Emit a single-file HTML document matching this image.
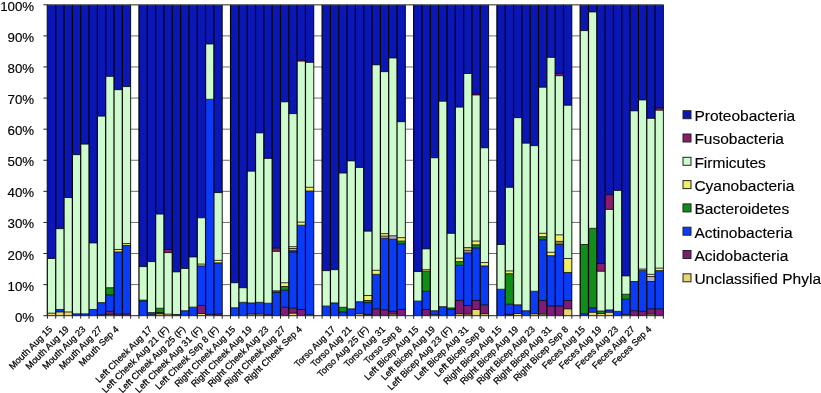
<!DOCTYPE html>
<html><head><meta charset="utf-8"><title>Phyla</title>
<style>html,body{margin:0;padding:0;background:#fff}body{width:821px;height:393px;overflow:hidden}svg{display:block}text{font-family:"Liberation Sans",sans-serif;fill:#000}</style></head><body>
<svg width="821" height="393" viewBox="0 0 821 393">
<rect width="821" height="393" fill="#fff"/>
<g stroke="#707070" stroke-width="1">
<line x1="47.4" x2="663.4" y1="284.61" y2="284.61"/>
<line x1="47.4" x2="663.4" y1="253.52" y2="253.52"/>
<line x1="47.4" x2="663.4" y1="222.43" y2="222.43"/>
<line x1="47.4" x2="663.4" y1="191.34" y2="191.34"/>
<line x1="47.4" x2="663.4" y1="160.25" y2="160.25"/>
<line x1="47.4" x2="663.4" y1="129.16" y2="129.16"/>
<line x1="47.4" x2="663.4" y1="98.07" y2="98.07"/>
<line x1="47.4" x2="663.4" y1="66.98" y2="66.98"/>
<line x1="47.4" x2="663.4" y1="35.89" y2="35.89"/>
<line x1="47.4" x2="663.4" y1="4.80" y2="4.80"/>
</g>
<defs><clipPath id="pc"><rect x="0" y="4.30" width="821" height="400"/></clipPath></defs>
<g clip-path="url(#pc)">
<rect x="47.40" y="313.21" width="8.37" height="2.54" fill="#EAD670"/>
<rect x="47.40" y="258.49" width="8.37" height="54.77" fill="#CDFBCE"/>
<rect x="47.40" y="4.80" width="8.37" height="253.74" fill="#0A17B4"/>
<rect x="55.72" y="311.97" width="8.37" height="3.78" fill="#EAD670"/>
<rect x="55.72" y="309.48" width="8.37" height="2.54" fill="#0A3CF8"/>
<rect x="55.72" y="228.65" width="8.37" height="80.88" fill="#CDFBCE"/>
<rect x="55.72" y="4.80" width="8.37" height="223.90" fill="#0A17B4"/>
<rect x="64.05" y="311.97" width="8.37" height="3.78" fill="#EAD670"/>
<rect x="64.05" y="197.56" width="8.37" height="114.46" fill="#CDFBCE"/>
<rect x="64.05" y="4.80" width="8.37" height="192.81" fill="#0A17B4"/>
<rect x="72.37" y="313.83" width="8.37" height="1.92" fill="#0A3CF8"/>
<rect x="72.37" y="154.65" width="8.37" height="159.23" fill="#CDFBCE"/>
<rect x="72.37" y="4.80" width="8.37" height="149.90" fill="#0A17B4"/>
<rect x="80.70" y="313.83" width="8.37" height="1.92" fill="#0A3CF8"/>
<rect x="80.70" y="144.08" width="8.37" height="169.80" fill="#CDFBCE"/>
<rect x="80.70" y="4.80" width="8.37" height="139.33" fill="#0A17B4"/>
<rect x="89.02" y="309.48" width="8.37" height="6.27" fill="#0A3CF8"/>
<rect x="89.02" y="242.95" width="8.37" height="66.58" fill="#CDFBCE"/>
<rect x="89.02" y="4.80" width="8.37" height="238.20" fill="#0A17B4"/>
<rect x="97.35" y="314.77" width="8.37" height="0.98" fill="#7C1C78"/>
<rect x="97.35" y="302.64" width="8.37" height="12.18" fill="#0A3CF8"/>
<rect x="97.35" y="116.10" width="8.37" height="186.59" fill="#CDFBCE"/>
<rect x="97.35" y="4.80" width="8.37" height="111.35" fill="#0A17B4"/>
<rect x="105.67" y="314.46" width="8.37" height="1.29" fill="#EAD670"/>
<rect x="105.67" y="311.35" width="8.37" height="3.16" fill="#7C1C78"/>
<rect x="105.67" y="294.87" width="8.37" height="16.53" fill="#0A3CF8"/>
<rect x="105.67" y="287.72" width="8.37" height="7.20" fill="#0F8F17"/>
<rect x="105.67" y="76.31" width="8.37" height="211.46" fill="#CDFBCE"/>
<rect x="105.67" y="4.80" width="8.37" height="71.56" fill="#0A17B4"/>
<rect x="113.99" y="314.15" width="8.37" height="1.60" fill="#7C1C78"/>
<rect x="113.99" y="251.97" width="8.37" height="62.23" fill="#0A3CF8"/>
<rect x="113.99" y="249.48" width="8.37" height="2.54" fill="#F2EE66"/>
<rect x="113.99" y="89.68" width="8.37" height="159.85" fill="#CDFBCE"/>
<rect x="113.99" y="4.80" width="8.37" height="84.93" fill="#0A17B4"/>
<rect x="122.32" y="314.15" width="8.37" height="1.60" fill="#7C1C78"/>
<rect x="122.32" y="245.44" width="8.37" height="68.76" fill="#0A3CF8"/>
<rect x="122.32" y="243.57" width="8.37" height="1.92" fill="#F2EE66"/>
<rect x="122.32" y="86.57" width="8.37" height="157.05" fill="#CDFBCE"/>
<rect x="122.32" y="4.80" width="8.37" height="81.82" fill="#0A17B4"/>
<rect x="138.97" y="301.09" width="8.37" height="14.66" fill="#0A3CF8"/>
<rect x="138.97" y="300.15" width="8.37" height="0.98" fill="#0F8F17"/>
<rect x="138.97" y="266.58" width="8.37" height="33.63" fill="#CDFBCE"/>
<rect x="138.97" y="4.80" width="8.37" height="261.83" fill="#0A17B4"/>
<rect x="147.29" y="314.77" width="8.37" height="0.98" fill="#EAD670"/>
<rect x="147.29" y="312.59" width="8.37" height="2.23" fill="#0A3CF8"/>
<rect x="147.29" y="261.60" width="8.37" height="51.04" fill="#CDFBCE"/>
<rect x="147.29" y="4.80" width="8.37" height="256.85" fill="#0A17B4"/>
<rect x="155.62" y="313.83" width="8.37" height="1.92" fill="#EAD670"/>
<rect x="155.62" y="312.59" width="8.37" height="1.29" fill="#0A3CF8"/>
<rect x="155.62" y="308.24" width="8.37" height="4.40" fill="#0F8F17"/>
<rect x="155.62" y="214.04" width="8.37" height="94.25" fill="#CDFBCE"/>
<rect x="155.62" y="4.80" width="8.37" height="209.29" fill="#0A17B4"/>
<rect x="163.94" y="314.15" width="8.37" height="1.60" fill="#EAD670"/>
<rect x="163.94" y="252.59" width="8.37" height="61.61" fill="#CDFBCE"/>
<rect x="163.94" y="249.48" width="8.37" height="3.16" fill="#8C1C6E"/>
<rect x="163.94" y="4.80" width="8.37" height="244.73" fill="#0A17B4"/>
<rect x="172.26" y="314.46" width="8.37" height="1.29" fill="#0A3CF8"/>
<rect x="172.26" y="271.86" width="8.37" height="42.64" fill="#CDFBCE"/>
<rect x="172.26" y="4.80" width="8.37" height="267.11" fill="#0A17B4"/>
<rect x="180.59" y="310.73" width="8.37" height="5.02" fill="#0A3CF8"/>
<rect x="180.59" y="268.44" width="8.37" height="42.33" fill="#CDFBCE"/>
<rect x="180.59" y="4.80" width="8.37" height="263.69" fill="#0A17B4"/>
<rect x="188.91" y="307.15" width="8.37" height="8.60" fill="#0A3CF8"/>
<rect x="188.91" y="256.94" width="8.37" height="50.26" fill="#CDFBCE"/>
<rect x="188.91" y="4.80" width="8.37" height="252.19" fill="#0A17B4"/>
<rect x="197.24" y="313.52" width="8.37" height="2.23" fill="#EAD670"/>
<rect x="197.24" y="305.44" width="8.37" height="8.13" fill="#7C1C78"/>
<rect x="197.24" y="265.96" width="8.37" height="39.53" fill="#0A3CF8"/>
<rect x="197.24" y="264.09" width="8.37" height="1.92" fill="#F2EE66"/>
<rect x="197.24" y="217.77" width="8.37" height="46.37" fill="#CDFBCE"/>
<rect x="197.24" y="4.80" width="8.37" height="213.02" fill="#0A17B4"/>
<rect x="205.56" y="314.46" width="8.37" height="1.29" fill="#EAD670"/>
<rect x="205.56" y="99.31" width="8.37" height="215.19" fill="#0A3CF8"/>
<rect x="205.56" y="43.97" width="8.37" height="55.39" fill="#CDFBCE"/>
<rect x="205.56" y="4.80" width="8.37" height="39.22" fill="#0A17B4"/>
<rect x="213.89" y="314.15" width="8.37" height="1.60" fill="#7C1C78"/>
<rect x="213.89" y="262.85" width="8.37" height="51.35" fill="#0A3CF8"/>
<rect x="213.89" y="260.36" width="8.37" height="2.54" fill="#F2EE66"/>
<rect x="213.89" y="192.58" width="8.37" height="67.83" fill="#CDFBCE"/>
<rect x="213.89" y="4.80" width="8.37" height="187.83" fill="#0A17B4"/>
<rect x="230.54" y="307.77" width="8.37" height="7.98" fill="#0A3CF8"/>
<rect x="230.54" y="282.74" width="8.37" height="25.08" fill="#CDFBCE"/>
<rect x="230.54" y="4.80" width="8.37" height="277.99" fill="#0A17B4"/>
<rect x="238.86" y="302.33" width="8.37" height="13.42" fill="#0A3CF8"/>
<rect x="238.86" y="287.72" width="8.37" height="14.66" fill="#CDFBCE"/>
<rect x="238.86" y="4.80" width="8.37" height="282.97" fill="#0A17B4"/>
<rect x="247.18" y="314.15" width="8.37" height="1.60" fill="#EAD670"/>
<rect x="247.18" y="302.95" width="8.37" height="11.24" fill="#0A3CF8"/>
<rect x="247.18" y="171.13" width="8.37" height="131.87" fill="#CDFBCE"/>
<rect x="247.18" y="4.80" width="8.37" height="166.38" fill="#0A17B4"/>
<rect x="255.51" y="314.15" width="8.37" height="1.60" fill="#EAD670"/>
<rect x="255.51" y="302.33" width="8.37" height="11.86" fill="#0A3CF8"/>
<rect x="255.51" y="132.89" width="8.37" height="169.49" fill="#CDFBCE"/>
<rect x="255.51" y="4.80" width="8.37" height="128.14" fill="#0A17B4"/>
<rect x="263.83" y="314.77" width="8.37" height="0.98" fill="#7C1C78"/>
<rect x="263.83" y="303.26" width="8.37" height="11.55" fill="#0A3CF8"/>
<rect x="263.83" y="158.38" width="8.37" height="144.93" fill="#CDFBCE"/>
<rect x="263.83" y="4.80" width="8.37" height="153.63" fill="#0A17B4"/>
<rect x="272.16" y="292.38" width="8.37" height="23.37" fill="#0A3CF8"/>
<rect x="272.16" y="290.83" width="8.37" height="1.60" fill="#0F8F17"/>
<rect x="272.16" y="251.34" width="8.37" height="39.53" fill="#CDFBCE"/>
<rect x="272.16" y="248.23" width="8.37" height="3.16" fill="#8C1C6E"/>
<rect x="272.16" y="4.80" width="8.37" height="243.48" fill="#0A17B4"/>
<rect x="280.48" y="307.31" width="8.37" height="8.44" fill="#7C1C78"/>
<rect x="280.48" y="290.21" width="8.37" height="17.15" fill="#0A3CF8"/>
<rect x="280.48" y="286.48" width="8.37" height="3.78" fill="#0F8F17"/>
<rect x="280.48" y="282.74" width="8.37" height="3.78" fill="#F2EE66"/>
<rect x="280.48" y="101.80" width="8.37" height="180.99" fill="#CDFBCE"/>
<rect x="280.48" y="4.80" width="8.37" height="97.05" fill="#0A17B4"/>
<rect x="288.81" y="313.21" width="8.37" height="2.54" fill="#EAD670"/>
<rect x="288.81" y="308.24" width="8.37" height="5.02" fill="#7C1C78"/>
<rect x="288.81" y="251.97" width="8.37" height="56.32" fill="#0A3CF8"/>
<rect x="288.81" y="250.72" width="8.37" height="1.29" fill="#0F8F17"/>
<rect x="288.81" y="248.55" width="8.37" height="2.23" fill="#B4ACCC"/>
<rect x="288.81" y="246.68" width="8.37" height="1.92" fill="#F2EE66"/>
<rect x="288.81" y="113.62" width="8.37" height="133.12" fill="#CDFBCE"/>
<rect x="288.81" y="4.80" width="8.37" height="108.86" fill="#0A17B4"/>
<rect x="297.13" y="309.48" width="8.37" height="6.27" fill="#7C1C78"/>
<rect x="297.13" y="225.23" width="8.37" height="84.30" fill="#0A3CF8"/>
<rect x="297.13" y="222.12" width="8.37" height="3.16" fill="#F2EE66"/>
<rect x="297.13" y="61.07" width="8.37" height="161.10" fill="#CDFBCE"/>
<rect x="297.13" y="59.83" width="8.37" height="1.29" fill="#8C1C6E"/>
<rect x="297.13" y="4.80" width="8.37" height="55.08" fill="#0A17B4"/>
<rect x="305.45" y="314.77" width="8.37" height="0.98" fill="#EAD670"/>
<rect x="305.45" y="191.03" width="8.37" height="123.79" fill="#0A3CF8"/>
<rect x="305.45" y="187.30" width="8.37" height="3.78" fill="#F2EE66"/>
<rect x="305.45" y="62.32" width="8.37" height="125.03" fill="#CDFBCE"/>
<rect x="305.45" y="4.80" width="8.37" height="57.57" fill="#0A17B4"/>
<rect x="322.10" y="306.06" width="8.37" height="9.69" fill="#0A3CF8"/>
<rect x="322.10" y="270.62" width="8.37" height="35.49" fill="#CDFBCE"/>
<rect x="322.10" y="4.80" width="8.37" height="265.87" fill="#0A17B4"/>
<rect x="330.43" y="302.95" width="8.37" height="12.80" fill="#0A3CF8"/>
<rect x="330.43" y="269.69" width="8.37" height="33.32" fill="#CDFBCE"/>
<rect x="330.43" y="4.80" width="8.37" height="264.94" fill="#0A17B4"/>
<rect x="338.75" y="311.97" width="8.37" height="3.78" fill="#0A3CF8"/>
<rect x="338.75" y="307.31" width="8.37" height="4.71" fill="#0F8F17"/>
<rect x="338.75" y="173.00" width="8.37" height="134.36" fill="#CDFBCE"/>
<rect x="338.75" y="4.80" width="8.37" height="168.25" fill="#0A17B4"/>
<rect x="347.08" y="308.86" width="8.37" height="6.89" fill="#0A3CF8"/>
<rect x="347.08" y="160.87" width="8.37" height="148.04" fill="#CDFBCE"/>
<rect x="347.08" y="4.80" width="8.37" height="156.12" fill="#0A17B4"/>
<rect x="355.40" y="313.83" width="8.37" height="1.92" fill="#EAD670"/>
<rect x="355.40" y="301.71" width="8.37" height="12.18" fill="#0A3CF8"/>
<rect x="355.40" y="167.40" width="8.37" height="134.36" fill="#CDFBCE"/>
<rect x="355.40" y="4.80" width="8.37" height="162.65" fill="#0A17B4"/>
<rect x="363.72" y="314.46" width="8.37" height="1.29" fill="#7C1C78"/>
<rect x="363.72" y="302.64" width="8.37" height="11.86" fill="#0A3CF8"/>
<rect x="363.72" y="300.47" width="8.37" height="2.23" fill="#0F8F17"/>
<rect x="363.72" y="295.49" width="8.37" height="5.02" fill="#F2EE66"/>
<rect x="363.72" y="231.14" width="8.37" height="64.41" fill="#CDFBCE"/>
<rect x="363.72" y="4.80" width="8.37" height="226.39" fill="#0A17B4"/>
<rect x="372.05" y="308.86" width="8.37" height="6.89" fill="#7C1C78"/>
<rect x="372.05" y="274.35" width="8.37" height="34.56" fill="#0A3CF8"/>
<rect x="372.05" y="270.31" width="8.37" height="4.09" fill="#F2EE66"/>
<rect x="372.05" y="64.80" width="8.37" height="205.55" fill="#CDFBCE"/>
<rect x="372.05" y="4.80" width="8.37" height="60.05" fill="#0A17B4"/>
<rect x="380.37" y="309.79" width="8.37" height="5.96" fill="#7C1C78"/>
<rect x="380.37" y="238.29" width="8.37" height="71.56" fill="#0A3CF8"/>
<rect x="380.37" y="236.11" width="8.37" height="2.23" fill="#B4ACCC"/>
<rect x="380.37" y="233.62" width="8.37" height="2.54" fill="#F2EE66"/>
<rect x="380.37" y="71.64" width="8.37" height="162.03" fill="#CDFBCE"/>
<rect x="380.37" y="4.80" width="8.37" height="66.89" fill="#0A17B4"/>
<rect x="388.70" y="314.15" width="8.37" height="1.60" fill="#EAD670"/>
<rect x="388.70" y="311.35" width="8.37" height="2.85" fill="#7C1C78"/>
<rect x="388.70" y="239.22" width="8.37" height="72.18" fill="#0A3CF8"/>
<rect x="388.70" y="235.80" width="8.37" height="3.47" fill="#B4ACCC"/>
<rect x="388.70" y="57.96" width="8.37" height="177.88" fill="#CDFBCE"/>
<rect x="388.70" y="4.80" width="8.37" height="53.21" fill="#0A17B4"/>
<rect x="397.02" y="309.48" width="8.37" height="6.27" fill="#7C1C78"/>
<rect x="397.02" y="243.88" width="8.37" height="65.65" fill="#0A3CF8"/>
<rect x="397.02" y="241.08" width="8.37" height="2.85" fill="#0F8F17"/>
<rect x="397.02" y="237.66" width="8.37" height="3.47" fill="#F2EE66"/>
<rect x="397.02" y="121.70" width="8.37" height="116.02" fill="#CDFBCE"/>
<rect x="397.02" y="4.80" width="8.37" height="116.95" fill="#0A17B4"/>
<rect x="413.67" y="301.09" width="8.37" height="14.66" fill="#0A3CF8"/>
<rect x="413.67" y="271.55" width="8.37" height="29.59" fill="#CDFBCE"/>
<rect x="413.67" y="4.80" width="8.37" height="266.80" fill="#0A17B4"/>
<rect x="421.99" y="309.48" width="8.37" height="6.27" fill="#7C1C78"/>
<rect x="421.99" y="291.29" width="8.37" height="18.24" fill="#0A3CF8"/>
<rect x="421.99" y="271.24" width="8.37" height="20.10" fill="#0F8F17"/>
<rect x="421.99" y="269.69" width="8.37" height="1.60" fill="#F2EE66"/>
<rect x="421.99" y="248.86" width="8.37" height="20.88" fill="#CDFBCE"/>
<rect x="421.99" y="4.80" width="8.37" height="244.11" fill="#0A17B4"/>
<rect x="430.32" y="314.77" width="8.37" height="0.98" fill="#EAD670"/>
<rect x="430.32" y="310.73" width="8.37" height="4.09" fill="#0A3CF8"/>
<rect x="430.32" y="157.76" width="8.37" height="153.01" fill="#CDFBCE"/>
<rect x="430.32" y="4.80" width="8.37" height="153.01" fill="#0A17B4"/>
<rect x="438.64" y="306.68" width="8.37" height="9.07" fill="#0A3CF8"/>
<rect x="438.64" y="101.18" width="8.37" height="205.55" fill="#CDFBCE"/>
<rect x="438.64" y="4.80" width="8.37" height="96.43" fill="#0A17B4"/>
<rect x="446.97" y="309.48" width="8.37" height="6.27" fill="#0A3CF8"/>
<rect x="446.97" y="307.93" width="8.37" height="1.60" fill="#0F8F17"/>
<rect x="446.97" y="233.31" width="8.37" height="74.67" fill="#CDFBCE"/>
<rect x="446.97" y="4.80" width="8.37" height="228.56" fill="#0A17B4"/>
<rect x="455.29" y="313.83" width="8.37" height="1.92" fill="#EAD670"/>
<rect x="455.29" y="300.47" width="8.37" height="13.42" fill="#7C1C78"/>
<rect x="455.29" y="265.33" width="8.37" height="35.18" fill="#0A3CF8"/>
<rect x="455.29" y="261.60" width="8.37" height="3.78" fill="#0F8F17"/>
<rect x="455.29" y="258.18" width="8.37" height="3.47" fill="#F2EE66"/>
<rect x="455.29" y="107.09" width="8.37" height="151.15" fill="#CDFBCE"/>
<rect x="455.29" y="4.80" width="8.37" height="102.34" fill="#0A17B4"/>
<rect x="463.62" y="314.15" width="8.37" height="1.60" fill="#EAD670"/>
<rect x="463.62" y="305.44" width="8.37" height="8.76" fill="#7C1C78"/>
<rect x="463.62" y="252.90" width="8.37" height="52.59" fill="#0A3CF8"/>
<rect x="463.62" y="250.72" width="8.37" height="2.23" fill="#B4ACCC"/>
<rect x="463.62" y="247.61" width="8.37" height="3.16" fill="#D2BC70"/>
<rect x="463.62" y="73.51" width="8.37" height="174.15" fill="#CDFBCE"/>
<rect x="463.62" y="4.80" width="8.37" height="68.76" fill="#0A17B4"/>
<rect x="471.94" y="309.48" width="8.37" height="6.27" fill="#EAD670"/>
<rect x="471.94" y="300.47" width="8.37" height="9.07" fill="#7C1C78"/>
<rect x="471.94" y="247.92" width="8.37" height="52.59" fill="#0A3CF8"/>
<rect x="471.94" y="244.81" width="8.37" height="3.16" fill="#0F8F17"/>
<rect x="471.94" y="241.08" width="8.37" height="3.78" fill="#F2EE66"/>
<rect x="471.94" y="94.96" width="8.37" height="146.17" fill="#CDFBCE"/>
<rect x="471.94" y="93.72" width="8.37" height="1.29" fill="#8C1C6E"/>
<rect x="471.94" y="4.80" width="8.37" height="88.97" fill="#0A17B4"/>
<rect x="480.26" y="313.83" width="8.37" height="1.92" fill="#EAD670"/>
<rect x="480.26" y="304.82" width="8.37" height="9.07" fill="#7C1C78"/>
<rect x="480.26" y="265.96" width="8.37" height="38.91" fill="#0A3CF8"/>
<rect x="480.26" y="262.54" width="8.37" height="3.47" fill="#F2EE66"/>
<rect x="480.26" y="147.81" width="8.37" height="114.77" fill="#CDFBCE"/>
<rect x="480.26" y="4.80" width="8.37" height="143.06" fill="#0A17B4"/>
<rect x="496.91" y="289.27" width="8.37" height="26.48" fill="#0A3CF8"/>
<rect x="496.91" y="244.50" width="8.37" height="44.82" fill="#CDFBCE"/>
<rect x="496.91" y="4.80" width="8.37" height="239.75" fill="#0A17B4"/>
<rect x="505.24" y="314.46" width="8.37" height="1.29" fill="#7C1C78"/>
<rect x="505.24" y="304.20" width="8.37" height="10.31" fill="#0A3CF8"/>
<rect x="505.24" y="273.73" width="8.37" height="30.52" fill="#0F8F17"/>
<rect x="505.24" y="270.93" width="8.37" height="2.85" fill="#F2EE66"/>
<rect x="505.24" y="187.30" width="8.37" height="83.68" fill="#CDFBCE"/>
<rect x="505.24" y="4.80" width="8.37" height="182.55" fill="#0A17B4"/>
<rect x="513.56" y="313.52" width="8.37" height="2.23" fill="#EAD670"/>
<rect x="513.56" y="304.82" width="8.37" height="8.76" fill="#0A3CF8"/>
<rect x="513.56" y="117.66" width="8.37" height="187.21" fill="#CDFBCE"/>
<rect x="513.56" y="4.80" width="8.37" height="112.91" fill="#0A17B4"/>
<rect x="521.89" y="310.73" width="8.37" height="5.02" fill="#0A3CF8"/>
<rect x="521.89" y="143.15" width="8.37" height="167.63" fill="#CDFBCE"/>
<rect x="521.89" y="4.80" width="8.37" height="138.40" fill="#0A17B4"/>
<rect x="530.21" y="313.83" width="8.37" height="1.92" fill="#EAD670"/>
<rect x="530.21" y="291.29" width="8.37" height="22.59" fill="#0A3CF8"/>
<rect x="530.21" y="145.64" width="8.37" height="145.71" fill="#CDFBCE"/>
<rect x="530.21" y="4.80" width="8.37" height="140.89" fill="#0A17B4"/>
<rect x="538.54" y="314.15" width="8.37" height="1.60" fill="#EAD670"/>
<rect x="538.54" y="300.47" width="8.37" height="13.73" fill="#7C1C78"/>
<rect x="538.54" y="239.84" width="8.37" height="60.68" fill="#0A3CF8"/>
<rect x="538.54" y="236.73" width="8.37" height="3.16" fill="#0F8F17"/>
<rect x="538.54" y="233.31" width="8.37" height="3.47" fill="#F2EE66"/>
<rect x="538.54" y="87.19" width="8.37" height="146.17" fill="#CDFBCE"/>
<rect x="538.54" y="4.80" width="8.37" height="82.44" fill="#0A17B4"/>
<rect x="546.86" y="306.06" width="8.37" height="9.69" fill="#7C1C78"/>
<rect x="546.86" y="255.70" width="8.37" height="50.42" fill="#0A3CF8"/>
<rect x="546.86" y="252.28" width="8.37" height="3.47" fill="#F2EE66"/>
<rect x="546.86" y="57.34" width="8.37" height="194.98" fill="#CDFBCE"/>
<rect x="546.86" y="4.80" width="8.37" height="52.59" fill="#0A17B4"/>
<rect x="555.18" y="306.06" width="8.37" height="9.69" fill="#7C1C78"/>
<rect x="555.18" y="244.50" width="8.37" height="61.61" fill="#0A3CF8"/>
<rect x="555.18" y="241.39" width="8.37" height="3.16" fill="#B4ACCC"/>
<rect x="555.18" y="242.95" width="8.37" height="-1.50" fill="#D2BC70"/>
<rect x="555.18" y="234.87" width="8.37" height="8.13" fill="#F2EE66"/>
<rect x="555.18" y="75.69" width="8.37" height="159.23" fill="#CDFBCE"/>
<rect x="555.18" y="73.51" width="8.37" height="2.23" fill="#8C1C6E"/>
<rect x="555.18" y="4.80" width="8.37" height="68.76" fill="#0A17B4"/>
<rect x="563.51" y="308.86" width="8.37" height="6.89" fill="#EAD670"/>
<rect x="563.51" y="300.47" width="8.37" height="8.44" fill="#7C1C78"/>
<rect x="563.51" y="272.48" width="8.37" height="28.03" fill="#0A3CF8"/>
<rect x="563.51" y="258.49" width="8.37" height="14.04" fill="#F2EE66"/>
<rect x="563.51" y="105.22" width="8.37" height="153.32" fill="#CDFBCE"/>
<rect x="563.51" y="4.80" width="8.37" height="100.47" fill="#0A17B4"/>
<rect x="580.16" y="313.83" width="8.37" height="1.92" fill="#0A3CF8"/>
<rect x="580.16" y="244.50" width="8.37" height="69.38" fill="#0F8F17"/>
<rect x="580.16" y="30.60" width="8.37" height="213.95" fill="#CDFBCE"/>
<rect x="580.16" y="4.80" width="8.37" height="25.85" fill="#0A17B4"/>
<rect x="588.48" y="312.28" width="8.37" height="3.47" fill="#EAD670"/>
<rect x="588.48" y="307.93" width="8.37" height="4.40" fill="#0A3CF8"/>
<rect x="588.48" y="228.34" width="8.37" height="79.64" fill="#0F8F17"/>
<rect x="588.48" y="11.95" width="8.37" height="216.44" fill="#CDFBCE"/>
<rect x="588.48" y="4.80" width="8.37" height="7.20" fill="#0A17B4"/>
<rect x="596.81" y="313.52" width="8.37" height="2.23" fill="#EAD670"/>
<rect x="596.81" y="311.04" width="8.37" height="2.54" fill="#0F8F17"/>
<rect x="596.81" y="271.24" width="8.37" height="39.85" fill="#CDFBCE"/>
<rect x="596.81" y="263.47" width="8.37" height="7.82" fill="#8C1C6E"/>
<rect x="596.81" y="4.80" width="8.37" height="258.72" fill="#0A17B4"/>
<rect x="605.13" y="312.28" width="8.37" height="3.47" fill="#EAD670"/>
<rect x="605.13" y="309.95" width="8.37" height="2.38" fill="#0A3CF8"/>
<rect x="605.13" y="209.37" width="8.37" height="100.63" fill="#CDFBCE"/>
<rect x="605.13" y="194.76" width="8.37" height="14.66" fill="#8C1C6E"/>
<rect x="605.13" y="4.80" width="8.37" height="190.01" fill="#0A17B4"/>
<rect x="613.45" y="311.35" width="8.37" height="4.40" fill="#0A3CF8"/>
<rect x="613.45" y="190.41" width="8.37" height="120.99" fill="#CDFBCE"/>
<rect x="613.45" y="4.80" width="8.37" height="185.66" fill="#0A17B4"/>
<rect x="621.78" y="314.46" width="8.37" height="1.29" fill="#EAD670"/>
<rect x="621.78" y="299.22" width="8.37" height="15.28" fill="#0A3CF8"/>
<rect x="621.78" y="294.25" width="8.37" height="5.02" fill="#0F8F17"/>
<rect x="621.78" y="275.90" width="8.37" height="18.39" fill="#CDFBCE"/>
<rect x="621.78" y="4.80" width="8.37" height="271.15" fill="#0A17B4"/>
<rect x="630.10" y="310.73" width="8.37" height="5.02" fill="#7C1C78"/>
<rect x="630.10" y="281.50" width="8.37" height="29.27" fill="#0A3CF8"/>
<rect x="630.10" y="110.82" width="8.37" height="170.73" fill="#CDFBCE"/>
<rect x="630.10" y="4.80" width="8.37" height="106.07" fill="#0A17B4"/>
<rect x="638.43" y="311.35" width="8.37" height="4.40" fill="#7C1C78"/>
<rect x="638.43" y="270.31" width="8.37" height="41.09" fill="#0A3CF8"/>
<rect x="638.43" y="269.06" width="8.37" height="1.29" fill="#F2EE66"/>
<rect x="638.43" y="99.94" width="8.37" height="169.18" fill="#CDFBCE"/>
<rect x="638.43" y="4.80" width="8.37" height="95.19" fill="#0A17B4"/>
<rect x="646.75" y="314.15" width="8.37" height="1.60" fill="#EAD670"/>
<rect x="646.75" y="308.86" width="8.37" height="5.34" fill="#7C1C78"/>
<rect x="646.75" y="281.50" width="8.37" height="27.41" fill="#0A3CF8"/>
<rect x="646.75" y="276.53" width="8.37" height="5.02" fill="#B4ACCC"/>
<rect x="646.75" y="274.35" width="8.37" height="2.23" fill="#F2EE66"/>
<rect x="646.75" y="118.28" width="8.37" height="156.12" fill="#CDFBCE"/>
<rect x="646.75" y="4.80" width="8.37" height="113.53" fill="#0A17B4"/>
<rect x="655.08" y="308.86" width="8.37" height="6.89" fill="#7C1C78"/>
<rect x="655.08" y="270.62" width="8.37" height="38.29" fill="#0A3CF8"/>
<rect x="655.08" y="268.13" width="8.37" height="2.54" fill="#F2EE66"/>
<rect x="655.08" y="110.20" width="8.37" height="157.99" fill="#CDFBCE"/>
<rect x="655.08" y="108.02" width="8.37" height="2.23" fill="#8C1C6E"/>
<rect x="655.08" y="4.80" width="8.37" height="103.27" fill="#0A17B4"/>
<g stroke="#000" stroke-width="0.8">
<line x1="47.40" x2="55.72" y1="313.21" y2="313.21"/>
<line x1="47.40" x2="55.72" y1="258.49" y2="258.49"/>
<line x1="55.72" x2="64.05" y1="311.97" y2="311.97"/>
<line x1="55.72" x2="64.05" y1="309.48" y2="309.48"/>
<line x1="55.72" x2="64.05" y1="228.65" y2="228.65"/>
<line x1="64.05" x2="72.37" y1="311.97" y2="311.97"/>
<line x1="64.05" x2="72.37" y1="197.56" y2="197.56"/>
<line x1="72.37" x2="80.70" y1="313.83" y2="313.83"/>
<line x1="72.37" x2="80.70" y1="154.65" y2="154.65"/>
<line x1="80.70" x2="89.02" y1="313.83" y2="313.83"/>
<line x1="80.70" x2="89.02" y1="144.08" y2="144.08"/>
<line x1="89.02" x2="97.35" y1="309.48" y2="309.48"/>
<line x1="89.02" x2="97.35" y1="242.95" y2="242.95"/>
<line x1="97.35" x2="105.67" y1="314.77" y2="314.77"/>
<line x1="97.35" x2="105.67" y1="302.64" y2="302.64"/>
<line x1="97.35" x2="105.67" y1="116.10" y2="116.10"/>
<line x1="105.67" x2="113.99" y1="314.46" y2="314.46"/>
<line x1="105.67" x2="113.99" y1="311.35" y2="311.35"/>
<line x1="105.67" x2="113.99" y1="294.87" y2="294.87"/>
<line x1="105.67" x2="113.99" y1="287.72" y2="287.72"/>
<line x1="105.67" x2="113.99" y1="76.31" y2="76.31"/>
<line x1="113.99" x2="122.32" y1="314.15" y2="314.15"/>
<line x1="113.99" x2="122.32" y1="251.97" y2="251.97"/>
<line x1="113.99" x2="122.32" y1="249.48" y2="249.48"/>
<line x1="113.99" x2="122.32" y1="89.68" y2="89.68"/>
<line x1="122.32" x2="130.64" y1="314.15" y2="314.15"/>
<line x1="122.32" x2="130.64" y1="245.44" y2="245.44"/>
<line x1="122.32" x2="130.64" y1="243.57" y2="243.57"/>
<line x1="122.32" x2="130.64" y1="86.57" y2="86.57"/>
<line x1="138.97" x2="147.29" y1="301.09" y2="301.09"/>
<line x1="138.97" x2="147.29" y1="300.15" y2="300.15"/>
<line x1="138.97" x2="147.29" y1="266.58" y2="266.58"/>
<line x1="147.29" x2="155.62" y1="314.77" y2="314.77"/>
<line x1="147.29" x2="155.62" y1="312.59" y2="312.59"/>
<line x1="147.29" x2="155.62" y1="261.60" y2="261.60"/>
<line x1="155.62" x2="163.94" y1="313.83" y2="313.83"/>
<line x1="155.62" x2="163.94" y1="312.59" y2="312.59"/>
<line x1="155.62" x2="163.94" y1="308.24" y2="308.24"/>
<line x1="155.62" x2="163.94" y1="214.04" y2="214.04"/>
<line x1="163.94" x2="172.26" y1="314.15" y2="314.15"/>
<line x1="163.94" x2="172.26" y1="252.59" y2="252.59"/>
<line x1="163.94" x2="172.26" y1="249.48" y2="249.48"/>
<line x1="172.26" x2="180.59" y1="314.46" y2="314.46"/>
<line x1="172.26" x2="180.59" y1="271.86" y2="271.86"/>
<line x1="180.59" x2="188.91" y1="310.73" y2="310.73"/>
<line x1="180.59" x2="188.91" y1="268.44" y2="268.44"/>
<line x1="188.91" x2="197.24" y1="307.15" y2="307.15"/>
<line x1="188.91" x2="197.24" y1="256.94" y2="256.94"/>
<line x1="197.24" x2="205.56" y1="313.52" y2="313.52"/>
<line x1="197.24" x2="205.56" y1="305.44" y2="305.44"/>
<line x1="197.24" x2="205.56" y1="265.96" y2="265.96"/>
<line x1="197.24" x2="205.56" y1="264.09" y2="264.09"/>
<line x1="197.24" x2="205.56" y1="217.77" y2="217.77"/>
<line x1="205.56" x2="213.89" y1="314.46" y2="314.46"/>
<line x1="205.56" x2="213.89" y1="99.31" y2="99.31"/>
<line x1="205.56" x2="213.89" y1="43.97" y2="43.97"/>
<line x1="213.89" x2="222.21" y1="314.15" y2="314.15"/>
<line x1="213.89" x2="222.21" y1="262.85" y2="262.85"/>
<line x1="213.89" x2="222.21" y1="260.36" y2="260.36"/>
<line x1="213.89" x2="222.21" y1="192.58" y2="192.58"/>
<line x1="230.54" x2="238.86" y1="307.77" y2="307.77"/>
<line x1="230.54" x2="238.86" y1="282.74" y2="282.74"/>
<line x1="238.86" x2="247.18" y1="302.33" y2="302.33"/>
<line x1="238.86" x2="247.18" y1="287.72" y2="287.72"/>
<line x1="247.18" x2="255.51" y1="314.15" y2="314.15"/>
<line x1="247.18" x2="255.51" y1="302.95" y2="302.95"/>
<line x1="247.18" x2="255.51" y1="171.13" y2="171.13"/>
<line x1="255.51" x2="263.83" y1="314.15" y2="314.15"/>
<line x1="255.51" x2="263.83" y1="302.33" y2="302.33"/>
<line x1="255.51" x2="263.83" y1="132.89" y2="132.89"/>
<line x1="263.83" x2="272.16" y1="314.77" y2="314.77"/>
<line x1="263.83" x2="272.16" y1="303.26" y2="303.26"/>
<line x1="263.83" x2="272.16" y1="158.38" y2="158.38"/>
<line x1="272.16" x2="280.48" y1="292.38" y2="292.38"/>
<line x1="272.16" x2="280.48" y1="290.83" y2="290.83"/>
<line x1="272.16" x2="280.48" y1="251.34" y2="251.34"/>
<line x1="272.16" x2="280.48" y1="248.23" y2="248.23"/>
<line x1="280.48" x2="288.81" y1="307.31" y2="307.31"/>
<line x1="280.48" x2="288.81" y1="290.21" y2="290.21"/>
<line x1="280.48" x2="288.81" y1="286.48" y2="286.48"/>
<line x1="280.48" x2="288.81" y1="282.74" y2="282.74"/>
<line x1="280.48" x2="288.81" y1="101.80" y2="101.80"/>
<line x1="288.81" x2="297.13" y1="313.21" y2="313.21"/>
<line x1="288.81" x2="297.13" y1="308.24" y2="308.24"/>
<line x1="288.81" x2="297.13" y1="251.97" y2="251.97"/>
<line x1="288.81" x2="297.13" y1="250.72" y2="250.72"/>
<line x1="288.81" x2="297.13" y1="248.55" y2="248.55"/>
<line x1="288.81" x2="297.13" y1="246.68" y2="246.68"/>
<line x1="288.81" x2="297.13" y1="113.62" y2="113.62"/>
<line x1="297.13" x2="305.45" y1="309.48" y2="309.48"/>
<line x1="297.13" x2="305.45" y1="225.23" y2="225.23"/>
<line x1="297.13" x2="305.45" y1="222.12" y2="222.12"/>
<line x1="297.13" x2="305.45" y1="61.07" y2="61.07"/>
<line x1="297.13" x2="305.45" y1="59.83" y2="59.83"/>
<line x1="305.45" x2="313.78" y1="314.77" y2="314.77"/>
<line x1="305.45" x2="313.78" y1="191.03" y2="191.03"/>
<line x1="305.45" x2="313.78" y1="187.30" y2="187.30"/>
<line x1="305.45" x2="313.78" y1="62.32" y2="62.32"/>
<line x1="322.10" x2="330.43" y1="306.06" y2="306.06"/>
<line x1="322.10" x2="330.43" y1="270.62" y2="270.62"/>
<line x1="330.43" x2="338.75" y1="302.95" y2="302.95"/>
<line x1="330.43" x2="338.75" y1="269.69" y2="269.69"/>
<line x1="338.75" x2="347.08" y1="311.97" y2="311.97"/>
<line x1="338.75" x2="347.08" y1="307.31" y2="307.31"/>
<line x1="338.75" x2="347.08" y1="173.00" y2="173.00"/>
<line x1="347.08" x2="355.40" y1="308.86" y2="308.86"/>
<line x1="347.08" x2="355.40" y1="160.87" y2="160.87"/>
<line x1="355.40" x2="363.72" y1="313.83" y2="313.83"/>
<line x1="355.40" x2="363.72" y1="301.71" y2="301.71"/>
<line x1="355.40" x2="363.72" y1="167.40" y2="167.40"/>
<line x1="363.72" x2="372.05" y1="314.46" y2="314.46"/>
<line x1="363.72" x2="372.05" y1="302.64" y2="302.64"/>
<line x1="363.72" x2="372.05" y1="300.47" y2="300.47"/>
<line x1="363.72" x2="372.05" y1="295.49" y2="295.49"/>
<line x1="363.72" x2="372.05" y1="231.14" y2="231.14"/>
<line x1="372.05" x2="380.37" y1="308.86" y2="308.86"/>
<line x1="372.05" x2="380.37" y1="274.35" y2="274.35"/>
<line x1="372.05" x2="380.37" y1="270.31" y2="270.31"/>
<line x1="372.05" x2="380.37" y1="64.80" y2="64.80"/>
<line x1="380.37" x2="388.70" y1="309.79" y2="309.79"/>
<line x1="380.37" x2="388.70" y1="238.29" y2="238.29"/>
<line x1="380.37" x2="388.70" y1="236.11" y2="236.11"/>
<line x1="380.37" x2="388.70" y1="233.62" y2="233.62"/>
<line x1="380.37" x2="388.70" y1="71.64" y2="71.64"/>
<line x1="388.70" x2="397.02" y1="314.15" y2="314.15"/>
<line x1="388.70" x2="397.02" y1="311.35" y2="311.35"/>
<line x1="388.70" x2="397.02" y1="239.22" y2="239.22"/>
<line x1="388.70" x2="397.02" y1="235.80" y2="235.80"/>
<line x1="388.70" x2="397.02" y1="57.96" y2="57.96"/>
<line x1="397.02" x2="405.35" y1="309.48" y2="309.48"/>
<line x1="397.02" x2="405.35" y1="243.88" y2="243.88"/>
<line x1="397.02" x2="405.35" y1="241.08" y2="241.08"/>
<line x1="397.02" x2="405.35" y1="237.66" y2="237.66"/>
<line x1="397.02" x2="405.35" y1="121.70" y2="121.70"/>
<line x1="413.67" x2="421.99" y1="301.09" y2="301.09"/>
<line x1="413.67" x2="421.99" y1="271.55" y2="271.55"/>
<line x1="421.99" x2="430.32" y1="309.48" y2="309.48"/>
<line x1="421.99" x2="430.32" y1="291.29" y2="291.29"/>
<line x1="421.99" x2="430.32" y1="271.24" y2="271.24"/>
<line x1="421.99" x2="430.32" y1="269.69" y2="269.69"/>
<line x1="421.99" x2="430.32" y1="248.86" y2="248.86"/>
<line x1="430.32" x2="438.64" y1="314.77" y2="314.77"/>
<line x1="430.32" x2="438.64" y1="310.73" y2="310.73"/>
<line x1="430.32" x2="438.64" y1="157.76" y2="157.76"/>
<line x1="438.64" x2="446.97" y1="306.68" y2="306.68"/>
<line x1="438.64" x2="446.97" y1="101.18" y2="101.18"/>
<line x1="446.97" x2="455.29" y1="309.48" y2="309.48"/>
<line x1="446.97" x2="455.29" y1="307.93" y2="307.93"/>
<line x1="446.97" x2="455.29" y1="233.31" y2="233.31"/>
<line x1="455.29" x2="463.62" y1="313.83" y2="313.83"/>
<line x1="455.29" x2="463.62" y1="300.47" y2="300.47"/>
<line x1="455.29" x2="463.62" y1="265.33" y2="265.33"/>
<line x1="455.29" x2="463.62" y1="261.60" y2="261.60"/>
<line x1="455.29" x2="463.62" y1="258.18" y2="258.18"/>
<line x1="455.29" x2="463.62" y1="107.09" y2="107.09"/>
<line x1="463.62" x2="471.94" y1="314.15" y2="314.15"/>
<line x1="463.62" x2="471.94" y1="305.44" y2="305.44"/>
<line x1="463.62" x2="471.94" y1="252.90" y2="252.90"/>
<line x1="463.62" x2="471.94" y1="250.72" y2="250.72"/>
<line x1="463.62" x2="471.94" y1="247.61" y2="247.61"/>
<line x1="463.62" x2="471.94" y1="73.51" y2="73.51"/>
<line x1="471.94" x2="480.26" y1="309.48" y2="309.48"/>
<line x1="471.94" x2="480.26" y1="300.47" y2="300.47"/>
<line x1="471.94" x2="480.26" y1="247.92" y2="247.92"/>
<line x1="471.94" x2="480.26" y1="244.81" y2="244.81"/>
<line x1="471.94" x2="480.26" y1="241.08" y2="241.08"/>
<line x1="471.94" x2="480.26" y1="94.96" y2="94.96"/>
<line x1="471.94" x2="480.26" y1="93.72" y2="93.72"/>
<line x1="480.26" x2="488.59" y1="313.83" y2="313.83"/>
<line x1="480.26" x2="488.59" y1="304.82" y2="304.82"/>
<line x1="480.26" x2="488.59" y1="265.96" y2="265.96"/>
<line x1="480.26" x2="488.59" y1="262.54" y2="262.54"/>
<line x1="480.26" x2="488.59" y1="147.81" y2="147.81"/>
<line x1="496.91" x2="505.24" y1="289.27" y2="289.27"/>
<line x1="496.91" x2="505.24" y1="244.50" y2="244.50"/>
<line x1="505.24" x2="513.56" y1="314.46" y2="314.46"/>
<line x1="505.24" x2="513.56" y1="304.20" y2="304.20"/>
<line x1="505.24" x2="513.56" y1="273.73" y2="273.73"/>
<line x1="505.24" x2="513.56" y1="270.93" y2="270.93"/>
<line x1="505.24" x2="513.56" y1="187.30" y2="187.30"/>
<line x1="513.56" x2="521.89" y1="313.52" y2="313.52"/>
<line x1="513.56" x2="521.89" y1="304.82" y2="304.82"/>
<line x1="513.56" x2="521.89" y1="117.66" y2="117.66"/>
<line x1="521.89" x2="530.21" y1="310.73" y2="310.73"/>
<line x1="521.89" x2="530.21" y1="143.15" y2="143.15"/>
<line x1="530.21" x2="538.54" y1="313.83" y2="313.83"/>
<line x1="530.21" x2="538.54" y1="291.29" y2="291.29"/>
<line x1="530.21" x2="538.54" y1="145.64" y2="145.64"/>
<line x1="538.54" x2="546.86" y1="314.15" y2="314.15"/>
<line x1="538.54" x2="546.86" y1="300.47" y2="300.47"/>
<line x1="538.54" x2="546.86" y1="239.84" y2="239.84"/>
<line x1="538.54" x2="546.86" y1="236.73" y2="236.73"/>
<line x1="538.54" x2="546.86" y1="233.31" y2="233.31"/>
<line x1="538.54" x2="546.86" y1="87.19" y2="87.19"/>
<line x1="546.86" x2="555.18" y1="306.06" y2="306.06"/>
<line x1="546.86" x2="555.18" y1="255.70" y2="255.70"/>
<line x1="546.86" x2="555.18" y1="252.28" y2="252.28"/>
<line x1="546.86" x2="555.18" y1="57.34" y2="57.34"/>
<line x1="555.18" x2="563.51" y1="306.06" y2="306.06"/>
<line x1="555.18" x2="563.51" y1="244.50" y2="244.50"/>
<line x1="555.18" x2="563.51" y1="241.39" y2="241.39"/>
<line x1="555.18" x2="563.51" y1="242.95" y2="242.95"/>
<line x1="555.18" x2="563.51" y1="234.87" y2="234.87"/>
<line x1="555.18" x2="563.51" y1="75.69" y2="75.69"/>
<line x1="555.18" x2="563.51" y1="73.51" y2="73.51"/>
<line x1="563.51" x2="571.83" y1="308.86" y2="308.86"/>
<line x1="563.51" x2="571.83" y1="300.47" y2="300.47"/>
<line x1="563.51" x2="571.83" y1="272.48" y2="272.48"/>
<line x1="563.51" x2="571.83" y1="258.49" y2="258.49"/>
<line x1="563.51" x2="571.83" y1="105.22" y2="105.22"/>
<line x1="580.16" x2="588.48" y1="313.83" y2="313.83"/>
<line x1="580.16" x2="588.48" y1="244.50" y2="244.50"/>
<line x1="580.16" x2="588.48" y1="30.60" y2="30.60"/>
<line x1="588.48" x2="596.81" y1="312.28" y2="312.28"/>
<line x1="588.48" x2="596.81" y1="307.93" y2="307.93"/>
<line x1="588.48" x2="596.81" y1="228.34" y2="228.34"/>
<line x1="588.48" x2="596.81" y1="11.95" y2="11.95"/>
<line x1="596.81" x2="605.13" y1="313.52" y2="313.52"/>
<line x1="596.81" x2="605.13" y1="311.04" y2="311.04"/>
<line x1="596.81" x2="605.13" y1="271.24" y2="271.24"/>
<line x1="596.81" x2="605.13" y1="263.47" y2="263.47"/>
<line x1="605.13" x2="613.45" y1="312.28" y2="312.28"/>
<line x1="605.13" x2="613.45" y1="309.95" y2="309.95"/>
<line x1="605.13" x2="613.45" y1="209.37" y2="209.37"/>
<line x1="605.13" x2="613.45" y1="194.76" y2="194.76"/>
<line x1="613.45" x2="621.78" y1="311.35" y2="311.35"/>
<line x1="613.45" x2="621.78" y1="190.41" y2="190.41"/>
<line x1="621.78" x2="630.10" y1="314.46" y2="314.46"/>
<line x1="621.78" x2="630.10" y1="299.22" y2="299.22"/>
<line x1="621.78" x2="630.10" y1="294.25" y2="294.25"/>
<line x1="621.78" x2="630.10" y1="275.90" y2="275.90"/>
<line x1="630.10" x2="638.43" y1="310.73" y2="310.73"/>
<line x1="630.10" x2="638.43" y1="281.50" y2="281.50"/>
<line x1="630.10" x2="638.43" y1="110.82" y2="110.82"/>
<line x1="638.43" x2="646.75" y1="311.35" y2="311.35"/>
<line x1="638.43" x2="646.75" y1="270.31" y2="270.31"/>
<line x1="638.43" x2="646.75" y1="269.06" y2="269.06"/>
<line x1="638.43" x2="646.75" y1="99.94" y2="99.94"/>
<line x1="646.75" x2="655.08" y1="314.15" y2="314.15"/>
<line x1="646.75" x2="655.08" y1="308.86" y2="308.86"/>
<line x1="646.75" x2="655.08" y1="281.50" y2="281.50"/>
<line x1="646.75" x2="655.08" y1="276.53" y2="276.53"/>
<line x1="646.75" x2="655.08" y1="274.35" y2="274.35"/>
<line x1="646.75" x2="655.08" y1="118.28" y2="118.28"/>
<line x1="655.08" x2="663.40" y1="308.86" y2="308.86"/>
<line x1="655.08" x2="663.40" y1="270.62" y2="270.62"/>
<line x1="655.08" x2="663.40" y1="268.13" y2="268.13"/>
<line x1="655.08" x2="663.40" y1="110.20" y2="110.20"/>
<line x1="655.08" x2="663.40" y1="108.02" y2="108.02"/>
</g>
<g stroke="#000">
<line x1="47.40" x2="47.40" y1="4.80" y2="315.70" stroke-width="1.2"/>
<line x1="55.72" x2="55.72" y1="4.80" y2="315.70" stroke-width="1.2"/>
<line x1="64.05" x2="64.05" y1="4.80" y2="315.70" stroke-width="1.2"/>
<line x1="72.37" x2="72.37" y1="4.80" y2="315.70" stroke-width="1.2"/>
<line x1="80.70" x2="80.70" y1="4.80" y2="315.70" stroke-width="1.2"/>
<line x1="89.02" x2="89.02" y1="4.80" y2="315.70" stroke-width="1.2"/>
<line x1="97.35" x2="97.35" y1="4.80" y2="315.70" stroke-width="1.2"/>
<line x1="105.67" x2="105.67" y1="4.80" y2="315.70" stroke-width="1.2"/>
<line x1="113.99" x2="113.99" y1="4.80" y2="315.70" stroke-width="1.2"/>
<line x1="122.32" x2="122.32" y1="4.80" y2="315.70" stroke-width="1.2"/>
<line x1="130.64" x2="130.64" y1="4.80" y2="315.70" stroke-width="0.9"/>
<line x1="138.97" x2="138.97" y1="4.80" y2="315.70" stroke-width="1.2"/>
<line x1="147.29" x2="147.29" y1="4.80" y2="315.70" stroke-width="1.2"/>
<line x1="155.62" x2="155.62" y1="4.80" y2="315.70" stroke-width="1.2"/>
<line x1="163.94" x2="163.94" y1="4.80" y2="315.70" stroke-width="1.2"/>
<line x1="172.26" x2="172.26" y1="4.80" y2="315.70" stroke-width="1.2"/>
<line x1="180.59" x2="180.59" y1="4.80" y2="315.70" stroke-width="1.2"/>
<line x1="188.91" x2="188.91" y1="4.80" y2="315.70" stroke-width="1.2"/>
<line x1="197.24" x2="197.24" y1="4.80" y2="315.70" stroke-width="1.2"/>
<line x1="205.56" x2="205.56" y1="4.80" y2="315.70" stroke-width="1.2"/>
<line x1="213.89" x2="213.89" y1="4.80" y2="315.70" stroke-width="1.2"/>
<line x1="222.21" x2="222.21" y1="4.80" y2="315.70" stroke-width="0.9"/>
<line x1="230.54" x2="230.54" y1="4.80" y2="315.70" stroke-width="1.2"/>
<line x1="238.86" x2="238.86" y1="4.80" y2="315.70" stroke-width="1.2"/>
<line x1="247.18" x2="247.18" y1="4.80" y2="315.70" stroke-width="1.2"/>
<line x1="255.51" x2="255.51" y1="4.80" y2="315.70" stroke-width="1.2"/>
<line x1="263.83" x2="263.83" y1="4.80" y2="315.70" stroke-width="1.2"/>
<line x1="272.16" x2="272.16" y1="4.80" y2="315.70" stroke-width="1.2"/>
<line x1="280.48" x2="280.48" y1="4.80" y2="315.70" stroke-width="1.2"/>
<line x1="288.81" x2="288.81" y1="4.80" y2="315.70" stroke-width="1.2"/>
<line x1="297.13" x2="297.13" y1="4.80" y2="315.70" stroke-width="1.2"/>
<line x1="305.45" x2="305.45" y1="4.80" y2="315.70" stroke-width="1.2"/>
<line x1="313.78" x2="313.78" y1="4.80" y2="315.70" stroke-width="0.9"/>
<line x1="322.10" x2="322.10" y1="4.80" y2="315.70" stroke-width="1.2"/>
<line x1="330.43" x2="330.43" y1="4.80" y2="315.70" stroke-width="1.2"/>
<line x1="338.75" x2="338.75" y1="4.80" y2="315.70" stroke-width="1.2"/>
<line x1="347.08" x2="347.08" y1="4.80" y2="315.70" stroke-width="1.2"/>
<line x1="355.40" x2="355.40" y1="4.80" y2="315.70" stroke-width="1.2"/>
<line x1="363.72" x2="363.72" y1="4.80" y2="315.70" stroke-width="1.2"/>
<line x1="372.05" x2="372.05" y1="4.80" y2="315.70" stroke-width="1.2"/>
<line x1="380.37" x2="380.37" y1="4.80" y2="315.70" stroke-width="1.2"/>
<line x1="388.70" x2="388.70" y1="4.80" y2="315.70" stroke-width="1.2"/>
<line x1="397.02" x2="397.02" y1="4.80" y2="315.70" stroke-width="1.2"/>
<line x1="405.35" x2="405.35" y1="4.80" y2="315.70" stroke-width="0.9"/>
<line x1="413.67" x2="413.67" y1="4.80" y2="315.70" stroke-width="1.2"/>
<line x1="421.99" x2="421.99" y1="4.80" y2="315.70" stroke-width="1.2"/>
<line x1="430.32" x2="430.32" y1="4.80" y2="315.70" stroke-width="1.2"/>
<line x1="438.64" x2="438.64" y1="4.80" y2="315.70" stroke-width="1.2"/>
<line x1="446.97" x2="446.97" y1="4.80" y2="315.70" stroke-width="1.2"/>
<line x1="455.29" x2="455.29" y1="4.80" y2="315.70" stroke-width="1.2"/>
<line x1="463.62" x2="463.62" y1="4.80" y2="315.70" stroke-width="1.2"/>
<line x1="471.94" x2="471.94" y1="4.80" y2="315.70" stroke-width="1.2"/>
<line x1="480.26" x2="480.26" y1="4.80" y2="315.70" stroke-width="1.2"/>
<line x1="488.59" x2="488.59" y1="4.80" y2="315.70" stroke-width="0.9"/>
<line x1="496.91" x2="496.91" y1="4.80" y2="315.70" stroke-width="1.2"/>
<line x1="505.24" x2="505.24" y1="4.80" y2="315.70" stroke-width="1.2"/>
<line x1="513.56" x2="513.56" y1="4.80" y2="315.70" stroke-width="1.2"/>
<line x1="521.89" x2="521.89" y1="4.80" y2="315.70" stroke-width="1.2"/>
<line x1="530.21" x2="530.21" y1="4.80" y2="315.70" stroke-width="1.2"/>
<line x1="538.54" x2="538.54" y1="4.80" y2="315.70" stroke-width="1.2"/>
<line x1="546.86" x2="546.86" y1="4.80" y2="315.70" stroke-width="1.2"/>
<line x1="555.18" x2="555.18" y1="4.80" y2="315.70" stroke-width="1.2"/>
<line x1="563.51" x2="563.51" y1="4.80" y2="315.70" stroke-width="1.2"/>
<line x1="571.83" x2="571.83" y1="4.80" y2="315.70" stroke-width="0.9"/>
<line x1="580.16" x2="580.16" y1="4.80" y2="315.70" stroke-width="1.2"/>
<line x1="588.48" x2="588.48" y1="4.80" y2="315.70" stroke-width="1.2"/>
<line x1="596.81" x2="596.81" y1="4.80" y2="315.70" stroke-width="1.2"/>
<line x1="605.13" x2="605.13" y1="4.80" y2="315.70" stroke-width="1.2"/>
<line x1="613.45" x2="613.45" y1="4.80" y2="315.70" stroke-width="1.2"/>
<line x1="621.78" x2="621.78" y1="4.80" y2="315.70" stroke-width="1.2"/>
<line x1="630.10" x2="630.10" y1="4.80" y2="315.70" stroke-width="1.2"/>
<line x1="638.43" x2="638.43" y1="4.80" y2="315.70" stroke-width="1.2"/>
<line x1="646.75" x2="646.75" y1="4.80" y2="315.70" stroke-width="1.2"/>
<line x1="655.08" x2="655.08" y1="4.80" y2="315.70" stroke-width="1.2"/>
<line x1="663.40" x2="663.40" y1="4.80" y2="315.70" stroke-width="0.9"/>
</g>
<line x1="47.40" x2="663.40" y1="4.80" y2="4.80" stroke="#555" stroke-width="1"/>
</g>
<g stroke="#222" stroke-width="1">
<line x1="47.4" x2="47.4" y1="4.80" y2="316.20"/>
<line x1="43.4" x2="663.4" y1="315.70" y2="315.70"/>
<line x1="43.4" x2="47.4" y1="284.61" y2="284.61"/>
<line x1="43.4" x2="47.4" y1="253.52" y2="253.52"/>
<line x1="43.4" x2="47.4" y1="222.43" y2="222.43"/>
<line x1="43.4" x2="47.4" y1="191.34" y2="191.34"/>
<line x1="43.4" x2="47.4" y1="160.25" y2="160.25"/>
<line x1="43.4" x2="47.4" y1="129.16" y2="129.16"/>
<line x1="43.4" x2="47.4" y1="98.07" y2="98.07"/>
<line x1="43.4" x2="47.4" y1="66.98" y2="66.98"/>
<line x1="43.4" x2="47.4" y1="35.89" y2="35.89"/>
<line x1="43.4" x2="47.4" y1="4.80" y2="4.80"/>
<line x1="47.40" x2="47.40" y1="315.70" y2="318.70"/>
<line x1="55.72" x2="55.72" y1="315.70" y2="318.70"/>
<line x1="64.05" x2="64.05" y1="315.70" y2="318.70"/>
<line x1="72.37" x2="72.37" y1="315.70" y2="318.70"/>
<line x1="80.70" x2="80.70" y1="315.70" y2="318.70"/>
<line x1="89.02" x2="89.02" y1="315.70" y2="318.70"/>
<line x1="97.35" x2="97.35" y1="315.70" y2="318.70"/>
<line x1="105.67" x2="105.67" y1="315.70" y2="318.70"/>
<line x1="113.99" x2="113.99" y1="315.70" y2="318.70"/>
<line x1="122.32" x2="122.32" y1="315.70" y2="318.70"/>
<line x1="130.64" x2="130.64" y1="315.70" y2="318.70"/>
<line x1="138.97" x2="138.97" y1="315.70" y2="318.70"/>
<line x1="147.29" x2="147.29" y1="315.70" y2="318.70"/>
<line x1="155.62" x2="155.62" y1="315.70" y2="318.70"/>
<line x1="163.94" x2="163.94" y1="315.70" y2="318.70"/>
<line x1="172.26" x2="172.26" y1="315.70" y2="318.70"/>
<line x1="180.59" x2="180.59" y1="315.70" y2="318.70"/>
<line x1="188.91" x2="188.91" y1="315.70" y2="318.70"/>
<line x1="197.24" x2="197.24" y1="315.70" y2="318.70"/>
<line x1="205.56" x2="205.56" y1="315.70" y2="318.70"/>
<line x1="213.89" x2="213.89" y1="315.70" y2="318.70"/>
<line x1="222.21" x2="222.21" y1="315.70" y2="318.70"/>
<line x1="230.54" x2="230.54" y1="315.70" y2="318.70"/>
<line x1="238.86" x2="238.86" y1="315.70" y2="318.70"/>
<line x1="247.18" x2="247.18" y1="315.70" y2="318.70"/>
<line x1="255.51" x2="255.51" y1="315.70" y2="318.70"/>
<line x1="263.83" x2="263.83" y1="315.70" y2="318.70"/>
<line x1="272.16" x2="272.16" y1="315.70" y2="318.70"/>
<line x1="280.48" x2="280.48" y1="315.70" y2="318.70"/>
<line x1="288.81" x2="288.81" y1="315.70" y2="318.70"/>
<line x1="297.13" x2="297.13" y1="315.70" y2="318.70"/>
<line x1="305.45" x2="305.45" y1="315.70" y2="318.70"/>
<line x1="313.78" x2="313.78" y1="315.70" y2="318.70"/>
<line x1="322.10" x2="322.10" y1="315.70" y2="318.70"/>
<line x1="330.43" x2="330.43" y1="315.70" y2="318.70"/>
<line x1="338.75" x2="338.75" y1="315.70" y2="318.70"/>
<line x1="347.08" x2="347.08" y1="315.70" y2="318.70"/>
<line x1="355.40" x2="355.40" y1="315.70" y2="318.70"/>
<line x1="363.72" x2="363.72" y1="315.70" y2="318.70"/>
<line x1="372.05" x2="372.05" y1="315.70" y2="318.70"/>
<line x1="380.37" x2="380.37" y1="315.70" y2="318.70"/>
<line x1="388.70" x2="388.70" y1="315.70" y2="318.70"/>
<line x1="397.02" x2="397.02" y1="315.70" y2="318.70"/>
<line x1="405.35" x2="405.35" y1="315.70" y2="318.70"/>
<line x1="413.67" x2="413.67" y1="315.70" y2="318.70"/>
<line x1="421.99" x2="421.99" y1="315.70" y2="318.70"/>
<line x1="430.32" x2="430.32" y1="315.70" y2="318.70"/>
<line x1="438.64" x2="438.64" y1="315.70" y2="318.70"/>
<line x1="446.97" x2="446.97" y1="315.70" y2="318.70"/>
<line x1="455.29" x2="455.29" y1="315.70" y2="318.70"/>
<line x1="463.62" x2="463.62" y1="315.70" y2="318.70"/>
<line x1="471.94" x2="471.94" y1="315.70" y2="318.70"/>
<line x1="480.26" x2="480.26" y1="315.70" y2="318.70"/>
<line x1="488.59" x2="488.59" y1="315.70" y2="318.70"/>
<line x1="496.91" x2="496.91" y1="315.70" y2="318.70"/>
<line x1="505.24" x2="505.24" y1="315.70" y2="318.70"/>
<line x1="513.56" x2="513.56" y1="315.70" y2="318.70"/>
<line x1="521.89" x2="521.89" y1="315.70" y2="318.70"/>
<line x1="530.21" x2="530.21" y1="315.70" y2="318.70"/>
<line x1="538.54" x2="538.54" y1="315.70" y2="318.70"/>
<line x1="546.86" x2="546.86" y1="315.70" y2="318.70"/>
<line x1="555.18" x2="555.18" y1="315.70" y2="318.70"/>
<line x1="563.51" x2="563.51" y1="315.70" y2="318.70"/>
<line x1="571.83" x2="571.83" y1="315.70" y2="318.70"/>
<line x1="580.16" x2="580.16" y1="315.70" y2="318.70"/>
<line x1="588.48" x2="588.48" y1="315.70" y2="318.70"/>
<line x1="596.81" x2="596.81" y1="315.70" y2="318.70"/>
<line x1="605.13" x2="605.13" y1="315.70" y2="318.70"/>
<line x1="613.45" x2="613.45" y1="315.70" y2="318.70"/>
<line x1="621.78" x2="621.78" y1="315.70" y2="318.70"/>
<line x1="630.10" x2="630.10" y1="315.70" y2="318.70"/>
<line x1="638.43" x2="638.43" y1="315.70" y2="318.70"/>
<line x1="646.75" x2="646.75" y1="315.70" y2="318.70"/>
<line x1="655.08" x2="655.08" y1="315.70" y2="318.70"/>
<line x1="663.40" x2="663.40" y1="315.70" y2="318.70"/>
</g>
<g font-size="13.3" text-anchor="end" stroke="#000" stroke-width="0.15">
<text x="34.2" y="321.75">0%</text>
<text x="34.2" y="290.66">10%</text>
<text x="34.2" y="259.57">20%</text>
<text x="34.2" y="228.48">30%</text>
<text x="34.2" y="197.39">40%</text>
<text x="34.2" y="166.30">50%</text>
<text x="34.2" y="135.21">60%</text>
<text x="34.2" y="104.12">70%</text>
<text x="34.2" y="73.03">80%</text>
<text x="34.2" y="41.94">90%</text>
<text x="34.2" y="10.85">100%</text>
</g>
<g font-size="9.2" text-anchor="end" stroke="#000" stroke-width="0.25">
<text transform="translate(50.66,327.70) rotate(-45)" x="0" y="3">Mouth Aug 15</text>
<text transform="translate(67.31,327.70) rotate(-45)" x="0" y="3">Mouth Aug 19</text>
<text transform="translate(83.96,327.70) rotate(-45)" x="0" y="3">Mouth Aug 23</text>
<text transform="translate(100.61,327.70) rotate(-45)" x="0" y="3">Mouth Aug 27</text>
<text transform="translate(117.26,327.70) rotate(-45)" x="0" y="3">Mouth Sep 4</text>
<text transform="translate(150.55,327.70) rotate(-45)" x="0" y="3">Left Cheek Aug 17</text>
<text transform="translate(167.20,327.70) rotate(-45)" x="0" y="3">Left Cheek Aug 21 (F)</text>
<text transform="translate(183.85,327.70) rotate(-45)" x="0" y="3">Left Cheek Aug 25 (F)</text>
<text transform="translate(200.50,327.70) rotate(-45)" x="0" y="3">Left Cheek Aug 31 (F)</text>
<text transform="translate(217.15,327.70) rotate(-45)" x="0" y="3">Left Cheek Sep 8 (F)</text>
<text transform="translate(233.80,327.70) rotate(-45)" x="0" y="3">Right Cheek Aug 15</text>
<text transform="translate(250.45,327.70) rotate(-45)" x="0" y="3">Right Cheek Aug 19</text>
<text transform="translate(267.09,327.70) rotate(-45)" x="0" y="3">Right Cheek Aug 23</text>
<text transform="translate(283.74,327.70) rotate(-45)" x="0" y="3">Right Cheek Aug 27</text>
<text transform="translate(300.39,327.70) rotate(-45)" x="0" y="3">Right Cheek Sep 4</text>
<text transform="translate(333.69,327.70) rotate(-45)" x="0" y="3">Torso Aug 17</text>
<text transform="translate(350.34,327.70) rotate(-45)" x="0" y="3">Torso Aug 21</text>
<text transform="translate(366.99,327.70) rotate(-45)" x="0" y="3">Torso Aug 25 (F)</text>
<text transform="translate(383.64,327.70) rotate(-45)" x="0" y="3">Torso Aug 31</text>
<text transform="translate(400.28,327.70) rotate(-45)" x="0" y="3">Torso Sep 8</text>
<text transform="translate(416.93,327.70) rotate(-45)" x="0" y="3">Left Bicep Aug 15</text>
<text transform="translate(433.58,327.70) rotate(-45)" x="0" y="3">Left Bicep Aug 19</text>
<text transform="translate(450.23,327.70) rotate(-45)" x="0" y="3">Left Bicep Aug 23 (F)</text>
<text transform="translate(466.88,327.70) rotate(-45)" x="0" y="3">Left Bicep Aug 31</text>
<text transform="translate(483.53,327.70) rotate(-45)" x="0" y="3">Left Bicep Sep 8</text>
<text transform="translate(500.18,327.70) rotate(-45)" x="0" y="3">Right Bicep Aug 15</text>
<text transform="translate(516.82,327.70) rotate(-45)" x="0" y="3">Right Bicep Aug 19</text>
<text transform="translate(533.47,327.70) rotate(-45)" x="0" y="3">Right Bicep Aug 23</text>
<text transform="translate(550.12,327.70) rotate(-45)" x="0" y="3">Right Bicep Aug 31</text>
<text transform="translate(566.77,327.70) rotate(-45)" x="0" y="3">Right Bicep Sep 8</text>
<text transform="translate(583.42,327.70) rotate(-45)" x="0" y="3">Feces Aug 15</text>
<text transform="translate(600.07,327.70) rotate(-45)" x="0" y="3">Feces Aug 19</text>
<text transform="translate(616.72,327.70) rotate(-45)" x="0" y="3">Feces Aug 23</text>
<text transform="translate(633.36,327.70) rotate(-45)" x="0" y="3">Feces Aug 27</text>
<text transform="translate(650.01,327.70) rotate(-45)" x="0" y="3">Feces Sep 4</text>
</g>
<g font-size="15.5" stroke-width="0.15">
<rect x="683" y="110.70" width="8" height="8" fill="#0A17B4" stroke="#222" stroke-width="1"/>
<text x="694.4" y="121.10" stroke="#000">Proteobacteria</text>
<rect x="683" y="134.00" width="8" height="8" fill="#8C1C6E" stroke="#222" stroke-width="1"/>
<text x="694.4" y="144.43" stroke="#000">Fusobacteria</text>
<rect x="683" y="157.30" width="8" height="8" fill="#CDFBCE" stroke="#222" stroke-width="1"/>
<text x="694.4" y="167.76" stroke="#000">Firmicutes</text>
<rect x="683" y="180.60" width="8" height="8" fill="#F2EE66" stroke="#222" stroke-width="1"/>
<text x="694.4" y="191.09" stroke="#000">Cyanobacteria</text>
<rect x="683" y="203.90" width="8" height="8" fill="#0F8F17" stroke="#222" stroke-width="1"/>
<text x="694.4" y="214.42" stroke="#000">Bacteroidetes</text>
<rect x="683" y="227.20" width="8" height="8" fill="#0A3CF8" stroke="#222" stroke-width="1"/>
<text x="694.4" y="237.75" stroke="#000">Actinobacteria</text>
<rect x="683" y="250.50" width="8" height="8" fill="#7C1C78" stroke="#222" stroke-width="1"/>
<text x="694.4" y="261.08" stroke="#000">Acidobacteria</text>
<rect x="683" y="273.80" width="8" height="8" fill="#EAD670" stroke="#222" stroke-width="1"/>
<text x="694.4" y="284.41" stroke="#000">Unclassified Phyla</text>
</g>
</svg></body></html>
